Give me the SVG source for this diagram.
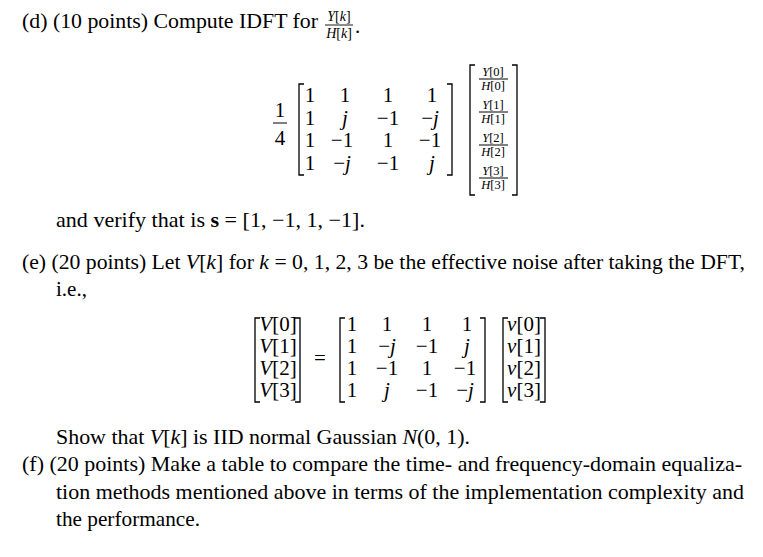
<svg xmlns="http://www.w3.org/2000/svg" width="763" height="557" viewBox="0 0 763 557">
<style>
text{font-family:"Liberation Serif","DejaVu Serif",serif;font-size:21px;fill:#000}
.i{font-style:italic}
text.s{font-size:14px}
.f text{font-size:12.5px}
.m{text-anchor:middle}
.b{fill:none;stroke:#000;stroke-width:1.3}
</style>
<rect width="763" height="557" fill="#fff"/>
<g id="partd">
<text x="22" y="28" textLength="296" lengthAdjust="spacingAndGlyphs">(d) (10 points) Compute IDFT for</text>
<text class="s m" x="339" y="21"><tspan class="i">Y</tspan>[<tspan class="i">k</tspan>]</text>
<line x1="325" y1="25" x2="353" y2="25" stroke="#000" stroke-width="0.9"/>
<text class="s m" x="339" y="38"><tspan class="i">H</tspan>[<tspan class="i">k</tspan>]</text>
<text x="355" y="33">.</text>
</g>
<g id="matrix1">
<text class="m" x="280" y="117">1</text>
<line x1="273" y1="123" x2="287" y2="123" stroke="#000" stroke-width="1"/>
<text class="m" x="280" y="145">4</text>
<path class="b" d="M304 84 H299 V175 H304 M447 84 H452 V175 H447"/>
<g class="m">
<text x="310" y="102">1</text><text x="345" y="102">1</text><text x="388" y="102">1</text><text x="432" y="102">1</text>
<text x="310" y="125">1</text><text class="i" x="345" y="125">j</text><text x="388" y="125">−1</text><text x="430" y="125">−<tspan class="i">j</tspan></text>
<text x="310" y="147">1</text><text x="342" y="147">−1</text><text x="388" y="147">1</text><text x="430" y="147">−1</text>
<text x="310" y="170">1</text><text x="342" y="170">−<tspan class="i">j</tspan></text><text x="388" y="170">−1</text><text class="i" x="432" y="170">j</text>
</g>
<path class="b" d="M475 65 H470 V195 H475 M512 65 H517 V195 H512"/>
<g class="f m">
<text x="493" y="76"><tspan class="i">Y</tspan>[0]</text><line x1="479" y1="79" x2="508" y2="79" stroke="#000"/><text x="493" y="90"><tspan class="i">H</tspan>[0]</text>
<text x="493" y="109"><tspan class="i">Y</tspan>[1]</text><line x1="479" y1="112" x2="508" y2="112" stroke="#000"/><text x="493" y="123"><tspan class="i">H</tspan>[1]</text>
<text x="493" y="142"><tspan class="i">Y</tspan>[2]</text><line x1="479" y1="145" x2="508" y2="145" stroke="#000"/><text x="493" y="156"><tspan class="i">H</tspan>[2]</text>
<text x="493" y="175"><tspan class="i">Y</tspan>[3]</text><line x1="479" y1="178" x2="508" y2="178" stroke="#000"/><text x="493" y="189"><tspan class="i">H</tspan>[3]</text>
</g>
</g>
<g id="verify">
<text x="56" y="227" textLength="309" lengthAdjust="spacingAndGlyphs">and verify that is <tspan font-weight="bold">s</tspan> = [1, −1, 1, −1].</text>
</g>
<g id="parte">
<text x="22" y="269" textLength="723" lengthAdjust="spacingAndGlyphs">(e) (20 points) Let <tspan class="i">V</tspan>[<tspan class="i">k</tspan>] for <tspan class="i">k</tspan> = 0, 1, 2, 3 be the effective noise after taking the DFT,</text>
<text x="56" y="296">i.e.,</text>
</g>
<g id="matrix2">
<path class="b" d="M260 318 H255 V402 H260 M295 318 H300 V402 H295"/>
<g class="m">
<text x="278" y="331"><tspan class="i">V</tspan>[0]</text><text x="278" y="353"><tspan class="i">V</tspan>[1]</text><text x="278" y="375"><tspan class="i">V</tspan>[2]</text><text x="278" y="397"><tspan class="i">V</tspan>[3]</text>
<text x="320" y="365">=</text>
</g>
<path class="b" d="M345 318 H340 V402 H345 M480 318 H485 V402 H480"/>
<g class="m">
<text x="352" y="331">1</text><text x="387" y="331">1</text><text x="427" y="331">1</text><text x="467" y="331">1</text>
<text x="352" y="353">1</text><text x="387" y="353">−<tspan class="i">j</tspan></text><text x="427" y="353">−1</text><text class="i" x="467" y="353">j</text>
<text x="352" y="375">1</text><text x="387" y="375">−1</text><text x="427" y="375">1</text><text x="465" y="375">−1</text>
<text x="352" y="397">1</text><text class="i" x="387" y="397">j</text><text x="427" y="397">−1</text><text x="465" y="397">−<tspan class="i">j</tspan></text>
</g>
<path class="b" d="M508 318 H503 V402 H508 M540 318 H545 V402 H540"/>
<g class="m">
<text x="524" y="331"><tspan class="i">v</tspan>[0]</text><text x="524" y="353"><tspan class="i">v</tspan>[1]</text><text x="524" y="375"><tspan class="i">v</tspan>[2]</text><text x="524" y="397"><tspan class="i">v</tspan>[3]</text>
</g>
</g>
<g id="show">
<text x="56" y="444" textLength="414" lengthAdjust="spacingAndGlyphs">Show that <tspan class="i">V</tspan>[<tspan class="i">k</tspan>] is IID normal Gaussian <tspan class="i">N</tspan>(0, 1).</text>
</g>
<g id="partf">
<text x="22" y="471" textLength="720" lengthAdjust="spacingAndGlyphs">(f) (20 points) Make a table to compare the time- and frequency-domain equaliza-</text>
<text x="56" y="499" textLength="688" lengthAdjust="spacingAndGlyphs">tion methods mentioned above in terms of the implementation complexity and</text>
<text x="56" y="526" textLength="144" lengthAdjust="spacingAndGlyphs">the performance.</text>
</g>
</svg>
